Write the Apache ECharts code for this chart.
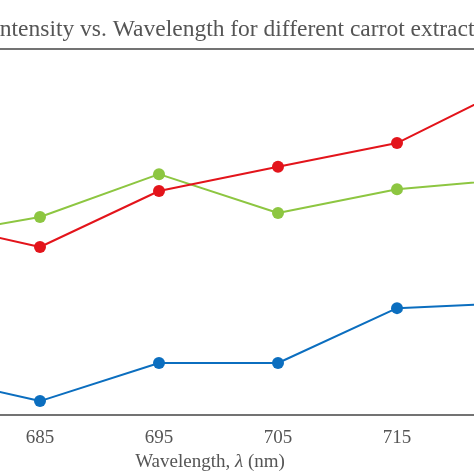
<!DOCTYPE html>
<html>
<head>
<meta charset="utf-8">
<script src="https://cdn.jsdelivr.net/npm/echarts@6/dist/echarts.min.js"></script>
<style>
  html, body { margin: 0; padding: 0; background: #fff; }
  #chart { width: 474px; height: 474px; }
</style>
</head>
<body>
<div id="chart"></div>
<script>
// wavelengths (nm)
const wavelengths = [675, 685, 695, 705, 715, 725];
const tickValues = [685, 695, 705, 715];
// intensity (arbitrary units)
const redSeries = [53.3, 45.9, 61.2, 67.8, 74.3, 90.4];
const greenSeries = [48.4, 54.1, 65.8, 55.2, 61.7, 64.5];
const blueSeries = [11.2, 3.8, 14.2, 14.2, 29.2, 30.6];

const toPairs = (ys) => ys.map((y, i) => [wavelengths[i], y]);

const chart = echarts.init(document.getElementById('chart'));

const serif = '"Liberation Serif", "DejaVu Serif", serif';

function line(name, color, ys) {
  return {
    name: name,
    type: 'line',
    data: toPairs(ys),
    symbol: 'circle',
    symbolSize: 12,
    clip: true,
    lineStyle: { color: color, width: 2 },
    itemStyle: { color: color },
    emphasis: { disabled: true }
  };
}

// the visible window is a crop of a wider plot
const xMin = 681.64, xMax = 721.47;

chart.setOption({
  animation: false,
  backgroundColor: '#fff',
  graphic: [{
    type: 'text',
    x: -8,
    y: 30,
    style: {
      text: 'Intensity vs. Wavelength for different carrot extracts',
      font: '23.5px "Liberation Serif", "DejaVu Serif", serif',
      fill: '#555',
      verticalAlign: 'middle'
    }
  }],
  grid: { left: 0, right: 0, top: 49, bottom: 59, outerBoundsMode: 'none', containLabel: false },
  xAxis: [
    {
      type: 'value',
      min: xMin,
      max: xMax,
      position: 'bottom',
      axisLine: { show: true, lineStyle: { color: '#444', width: 1.5 } },
      axisTick: { show: false },
      splitLine: { show: false },
      axisLabel: { fontFamily: serif, fontSize: 19, color: '#555', margin: 14, customValues: tickValues },
      name: '{a|Wavelength, }{i|λ}{a| (nm)}',
      nameLocation: 'middle',
      nameGap: 36,
      nameTextStyle: {
        padding: [0, 54, 0, 0],
        rich: {
          a: { fontFamily: serif, fontSize: 19, color: '#555' },
          i: { fontFamily: serif, fontSize: 19, color: '#555', fontStyle: 'italic' }
        }
      }
    },
    {
      type: 'value',
      min: xMin,
      max: xMax,
      position: 'top',
      axisLine: { show: true, lineStyle: { color: '#444', width: 1.5 } },
      axisTick: { show: false },
      splitLine: { show: false },
      axisLabel: { show: false }
    }
  ],
  yAxis: {
    type: 'value',
    min: 0,
    max: 100,
    axisLine: { show: false },
    axisTick: { show: false },
    axisLabel: { show: false },
    splitLine: { show: false }
  },
  series: [
    line('Blue', '#0b6ebf', blueSeries),
    line('Green', '#8dc641', greenSeries),
    line('Red', '#e3141b', redSeries)
  ]
});
</script>
</body>
</html>
